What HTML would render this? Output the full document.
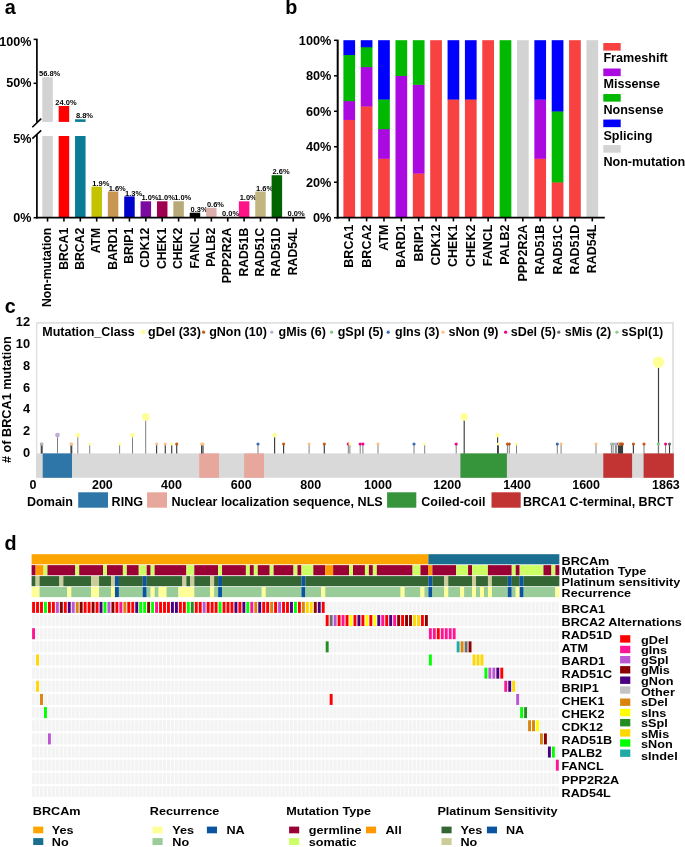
<!DOCTYPE html>
<html lang="en"><head><meta charset="utf-8"><title>BRCA / HRR mutation landscape</title>
<style>
html,body{margin:0;padding:0;background:#fff;}
body{width:685px;height:847px;overflow:hidden;}
svg{display:block;font-family:"Liberation Sans", Arial, Helvetica, sans-serif;}
svg text{fill:#000;}
</style></head><body>
<svg width="685" height="847" viewBox="0 0 685 847">
<rect x="0" y="0" width="685" height="847" fill="#ffffff"/>
<text x="4.80" y="14.00" font-size="19.8" text-anchor="start" font-weight="bold">a</text>
<text x="285.30" y="14.00" font-size="19.8" text-anchor="start" font-weight="bold">b</text>
<text x="4.80" y="313.40" font-size="19.8" text-anchor="start" font-weight="bold">c</text>
<text x="4.50" y="549.80" font-size="19.8" text-anchor="start" font-weight="bold">d</text>
<rect x="42.30" y="136.00" width="10.50" height="81.60" fill="#d3d3d3"/>
<rect x="42.30" y="77.24" width="10.50" height="44.66" fill="#d3d3d3"/>
<text x="60.25" y="76.34" font-size="7.5" text-anchor="end" font-weight="bold">56.8%</text>
<line x1="47.55" y1="218.00" x2="47.55" y2="221.60" stroke="#000" stroke-width="1.6"/>
<text transform="translate(51.15,227.80) rotate(-90)" font-size="12.2" text-anchor="end" font-weight="bold">Non-mutation</text>
<rect x="58.68" y="136.00" width="10.50" height="81.60" fill="#ff0000"/>
<rect x="58.68" y="105.98" width="10.50" height="15.92" fill="#ff0000"/>
<text x="76.63" y="105.08" font-size="7.5" text-anchor="end" font-weight="bold">24.0%</text>
<line x1="63.93" y1="218.00" x2="63.93" y2="221.60" stroke="#000" stroke-width="1.6"/>
<text transform="translate(67.53,227.80) rotate(-90)" font-size="12.2" text-anchor="end" font-weight="bold">BRCA1</text>
<rect x="75.06" y="136.00" width="10.50" height="81.60" fill="#0a7c96"/>
<rect x="75.06" y="119.29" width="10.50" height="2.61" fill="#0a7c96"/>
<text x="93.01" y="118.39" font-size="7.5" text-anchor="end" font-weight="bold">8.8%</text>
<line x1="80.31" y1="218.00" x2="80.31" y2="221.60" stroke="#000" stroke-width="1.6"/>
<text transform="translate(83.91,227.80) rotate(-90)" font-size="12.2" text-anchor="end" font-weight="bold">BRCA2</text>
<rect x="91.44" y="186.63" width="10.50" height="30.97" fill="#c3c300"/>
<text x="109.39" y="185.73" font-size="7.5" text-anchor="end" font-weight="bold">1.9%</text>
<line x1="96.69" y1="218.00" x2="96.69" y2="221.60" stroke="#000" stroke-width="1.6"/>
<text transform="translate(100.29,227.80) rotate(-90)" font-size="12.2" text-anchor="end" font-weight="bold">ATM</text>
<rect x="107.82" y="191.52" width="10.50" height="26.08" fill="#c89650"/>
<text x="125.77" y="190.62" font-size="7.5" text-anchor="end" font-weight="bold">1.6%</text>
<line x1="113.07" y1="218.00" x2="113.07" y2="221.60" stroke="#000" stroke-width="1.6"/>
<text transform="translate(116.67,227.80) rotate(-90)" font-size="12.2" text-anchor="end" font-weight="bold">BARD1</text>
<rect x="124.20" y="196.41" width="10.50" height="21.19" fill="#0000cd"/>
<text x="142.15" y="195.51" font-size="7.5" text-anchor="end" font-weight="bold">1.3%</text>
<line x1="129.45" y1="218.00" x2="129.45" y2="221.60" stroke="#000" stroke-width="1.6"/>
<text transform="translate(133.05,227.80) rotate(-90)" font-size="12.2" text-anchor="end" font-weight="bold">BRIP1</text>
<rect x="140.58" y="201.30" width="10.50" height="16.30" fill="#7b0aa0"/>
<text x="158.53" y="200.40" font-size="7.5" text-anchor="end" font-weight="bold">1.0%</text>
<line x1="145.83" y1="218.00" x2="145.83" y2="221.60" stroke="#000" stroke-width="1.6"/>
<text transform="translate(149.43,227.80) rotate(-90)" font-size="12.2" text-anchor="end" font-weight="bold">CDK12</text>
<rect x="156.96" y="201.30" width="10.50" height="16.30" fill="#a00050"/>
<text x="174.91" y="200.40" font-size="7.5" text-anchor="end" font-weight="bold">1.0%</text>
<line x1="162.21" y1="218.00" x2="162.21" y2="221.60" stroke="#000" stroke-width="1.6"/>
<text transform="translate(165.81,227.80) rotate(-90)" font-size="12.2" text-anchor="end" font-weight="bold">CHEK1</text>
<rect x="173.34" y="201.30" width="10.50" height="16.30" fill="#b5aa78"/>
<text x="191.29" y="200.40" font-size="7.5" text-anchor="end" font-weight="bold">1.0%</text>
<line x1="178.59" y1="218.00" x2="178.59" y2="221.60" stroke="#000" stroke-width="1.6"/>
<text transform="translate(182.19,227.80) rotate(-90)" font-size="12.2" text-anchor="end" font-weight="bold">CHEK2</text>
<rect x="189.72" y="212.71" width="10.50" height="4.89" fill="#000000"/>
<text x="207.67" y="211.81" font-size="7.5" text-anchor="end" font-weight="bold">0.3%</text>
<line x1="194.97" y1="218.00" x2="194.97" y2="221.60" stroke="#000" stroke-width="1.6"/>
<text transform="translate(198.57,227.80) rotate(-90)" font-size="12.2" text-anchor="end" font-weight="bold">FANCL</text>
<rect x="206.10" y="207.82" width="10.50" height="9.78" fill="#dcb0aa"/>
<text x="224.05" y="206.92" font-size="7.5" text-anchor="end" font-weight="bold">0.6%</text>
<line x1="211.35" y1="218.00" x2="211.35" y2="221.60" stroke="#000" stroke-width="1.6"/>
<text transform="translate(214.95,227.80) rotate(-90)" font-size="12.2" text-anchor="end" font-weight="bold">PALB2</text>
<text x="239.13" y="215.90" font-size="7.5" text-anchor="end" font-weight="bold">0.0%</text>
<line x1="227.73" y1="218.00" x2="227.73" y2="221.60" stroke="#000" stroke-width="1.6"/>
<text transform="translate(231.33,227.80) rotate(-90)" font-size="12.2" text-anchor="end" font-weight="bold">PPP2R2A</text>
<rect x="238.86" y="201.30" width="10.50" height="16.30" fill="#ff1488"/>
<text x="256.81" y="200.40" font-size="7.5" text-anchor="end" font-weight="bold">1.0%</text>
<line x1="244.11" y1="218.00" x2="244.11" y2="221.60" stroke="#000" stroke-width="1.6"/>
<text transform="translate(247.71,227.80) rotate(-90)" font-size="12.2" text-anchor="end" font-weight="bold">RAD51B</text>
<rect x="255.24" y="191.52" width="10.50" height="26.08" fill="#c3b580"/>
<text x="273.19" y="190.62" font-size="7.5" text-anchor="end" font-weight="bold">1.6%</text>
<line x1="260.49" y1="218.00" x2="260.49" y2="221.60" stroke="#000" stroke-width="1.6"/>
<text transform="translate(264.09,227.80) rotate(-90)" font-size="12.2" text-anchor="end" font-weight="bold">RAD51C</text>
<rect x="271.62" y="175.22" width="10.50" height="42.38" fill="#006400"/>
<text x="289.57" y="174.32" font-size="7.5" text-anchor="end" font-weight="bold">2.6%</text>
<line x1="276.87" y1="218.00" x2="276.87" y2="221.60" stroke="#000" stroke-width="1.6"/>
<text transform="translate(280.47,227.80) rotate(-90)" font-size="12.2" text-anchor="end" font-weight="bold">RAD51D</text>
<text x="304.65" y="215.90" font-size="7.5" text-anchor="end" font-weight="bold">0.0%</text>
<line x1="293.25" y1="218.00" x2="293.25" y2="221.60" stroke="#000" stroke-width="1.6"/>
<text transform="translate(296.85,227.80) rotate(-90)" font-size="12.2" text-anchor="end" font-weight="bold">RAD54L</text>
<line x1="36.90" y1="38.80" x2="36.90" y2="122.20" stroke="#000" stroke-width="1.7"/>
<line x1="36.90" y1="134.60" x2="36.90" y2="218.40" stroke="#000" stroke-width="1.7"/>
<line x1="32.30" y1="127.30" x2="41.20" y2="118.60" stroke="#000" stroke-width="1.6"/>
<line x1="32.30" y1="138.60" x2="41.20" y2="130.40" stroke="#000" stroke-width="1.6"/>
<line x1="36.00" y1="217.70" x2="305.30" y2="217.70" stroke="#000" stroke-width="1.7"/>
<line x1="33.60" y1="39.40" x2="37.00" y2="39.40" stroke="#000" stroke-width="1.5"/>
<line x1="33.60" y1="83.30" x2="37.00" y2="83.30" stroke="#000" stroke-width="1.5"/>
<line x1="33.60" y1="217.70" x2="37.00" y2="217.70" stroke="#000" stroke-width="1.5"/>
<text x="31.40" y="46.00" font-size="12.6" text-anchor="end" font-weight="bold">100%</text>
<text x="31.40" y="86.90" font-size="12.6" text-anchor="end" font-weight="bold">50%</text>
<text x="31.40" y="142.90" font-size="12.6" text-anchor="end" font-weight="bold">5%</text>
<text x="31.40" y="222.40" font-size="12.6" text-anchor="end" font-weight="bold">0%</text>
<rect x="343.40" y="119.68" width="11.70" height="98.22" fill="#f84141"/>
<rect x="343.40" y="100.87" width="11.70" height="19.10" fill="#aa0ae0"/>
<rect x="343.40" y="54.75" width="11.70" height="46.42" fill="#00b900"/>
<rect x="343.40" y="40.20" width="11.70" height="14.85" fill="#0000ff"/>
<line x1="349.25" y1="218.00" x2="349.25" y2="221.40" stroke="#000" stroke-width="1.6"/>
<text transform="translate(353.25,224.60) rotate(-90)" font-size="12.5" text-anchor="end" font-weight="bold">BRCA1</text>
<rect x="360.76" y="106.19" width="11.70" height="111.71" fill="#f84141"/>
<rect x="360.76" y="66.81" width="11.70" height="39.68" fill="#aa0ae0"/>
<rect x="360.76" y="46.94" width="11.70" height="20.17" fill="#00b900"/>
<rect x="360.76" y="40.20" width="11.70" height="7.04" fill="#0000ff"/>
<line x1="366.61" y1="218.00" x2="366.61" y2="221.40" stroke="#000" stroke-width="1.6"/>
<text transform="translate(370.61,224.60) rotate(-90)" font-size="12.5" text-anchor="end" font-weight="bold">BRCA2</text>
<rect x="378.12" y="158.53" width="11.70" height="59.37" fill="#f84141"/>
<rect x="378.12" y="128.90" width="11.70" height="29.93" fill="#aa0ae0"/>
<rect x="378.12" y="99.27" width="11.70" height="29.93" fill="#00b900"/>
<rect x="378.12" y="40.20" width="11.70" height="59.37" fill="#0000ff"/>
<line x1="383.97" y1="218.00" x2="383.97" y2="221.40" stroke="#000" stroke-width="1.6"/>
<text transform="translate(387.97,224.60) rotate(-90)" font-size="12.5" text-anchor="end" font-weight="bold">ATM</text>
<rect x="395.48" y="75.68" width="11.70" height="142.22" fill="#aa0ae0"/>
<rect x="395.48" y="40.20" width="11.70" height="35.78" fill="#00b900"/>
<line x1="401.33" y1="218.00" x2="401.33" y2="221.40" stroke="#000" stroke-width="1.6"/>
<text transform="translate(405.33,224.60) rotate(-90)" font-size="12.5" text-anchor="end" font-weight="bold">BARD1</text>
<rect x="412.84" y="173.25" width="11.70" height="44.65" fill="#f84141"/>
<rect x="412.84" y="84.55" width="11.70" height="89.00" fill="#aa0ae0"/>
<rect x="412.84" y="40.20" width="11.70" height="44.65" fill="#00b900"/>
<line x1="418.69" y1="218.00" x2="418.69" y2="221.40" stroke="#000" stroke-width="1.6"/>
<text transform="translate(422.69,224.60) rotate(-90)" font-size="12.5" text-anchor="end" font-weight="bold">BRIP1</text>
<rect x="430.20" y="40.20" width="11.70" height="177.70" fill="#f84141"/>
<line x1="436.05" y1="218.00" x2="436.05" y2="221.40" stroke="#000" stroke-width="1.6"/>
<text transform="translate(440.05,224.60) rotate(-90)" font-size="12.5" text-anchor="end" font-weight="bold">CDK12</text>
<rect x="447.56" y="99.27" width="11.70" height="118.63" fill="#f84141"/>
<rect x="447.56" y="40.20" width="11.70" height="59.37" fill="#0000ff"/>
<line x1="453.41" y1="218.00" x2="453.41" y2="221.40" stroke="#000" stroke-width="1.6"/>
<text transform="translate(457.41,224.60) rotate(-90)" font-size="12.5" text-anchor="end" font-weight="bold">CHEK1</text>
<rect x="464.92" y="99.27" width="11.70" height="118.63" fill="#f84141"/>
<rect x="464.92" y="40.20" width="11.70" height="59.37" fill="#0000ff"/>
<line x1="470.77" y1="218.00" x2="470.77" y2="221.40" stroke="#000" stroke-width="1.6"/>
<text transform="translate(474.77,224.60) rotate(-90)" font-size="12.5" text-anchor="end" font-weight="bold">CHEK2</text>
<rect x="482.28" y="40.20" width="11.70" height="177.70" fill="#f84141"/>
<line x1="488.13" y1="218.00" x2="488.13" y2="221.40" stroke="#000" stroke-width="1.6"/>
<text transform="translate(492.13,224.60) rotate(-90)" font-size="12.5" text-anchor="end" font-weight="bold">FANCL</text>
<rect x="499.64" y="40.20" width="11.70" height="177.70" fill="#00b900"/>
<line x1="505.49" y1="218.00" x2="505.49" y2="221.40" stroke="#000" stroke-width="1.6"/>
<text transform="translate(509.49,224.60) rotate(-90)" font-size="12.5" text-anchor="end" font-weight="bold">PALB2</text>
<rect x="517.00" y="40.20" width="11.70" height="177.70" fill="#d3d3d3"/>
<line x1="522.85" y1="218.00" x2="522.85" y2="221.40" stroke="#000" stroke-width="1.6"/>
<text transform="translate(526.85,224.60) rotate(-90)" font-size="12.5" text-anchor="end" font-weight="bold">PPP2R2A</text>
<rect x="534.36" y="158.53" width="11.70" height="59.37" fill="#f84141"/>
<rect x="534.36" y="99.27" width="11.70" height="59.55" fill="#aa0ae0"/>
<rect x="534.36" y="40.20" width="11.70" height="59.37" fill="#0000ff"/>
<line x1="540.21" y1="218.00" x2="540.21" y2="221.40" stroke="#000" stroke-width="1.6"/>
<text transform="translate(544.21,224.60) rotate(-90)" font-size="12.5" text-anchor="end" font-weight="bold">RAD51B</text>
<rect x="551.72" y="182.12" width="11.70" height="35.78" fill="#f84141"/>
<rect x="551.72" y="111.16" width="11.70" height="71.26" fill="#00b900"/>
<rect x="551.72" y="40.20" width="11.70" height="71.26" fill="#0000ff"/>
<line x1="557.57" y1="218.00" x2="557.57" y2="221.40" stroke="#000" stroke-width="1.6"/>
<text transform="translate(561.57,224.60) rotate(-90)" font-size="12.5" text-anchor="end" font-weight="bold">RAD51C</text>
<rect x="569.08" y="40.20" width="11.70" height="177.70" fill="#f84141"/>
<line x1="574.93" y1="218.00" x2="574.93" y2="221.40" stroke="#000" stroke-width="1.6"/>
<text transform="translate(578.93,224.60) rotate(-90)" font-size="12.5" text-anchor="end" font-weight="bold">RAD51D</text>
<rect x="586.44" y="40.20" width="11.70" height="177.70" fill="#d3d3d3"/>
<line x1="592.29" y1="218.00" x2="592.29" y2="221.40" stroke="#000" stroke-width="1.6"/>
<text transform="translate(596.29,224.60) rotate(-90)" font-size="12.5" text-anchor="end" font-weight="bold">RAD54L</text>
<line x1="337.70" y1="39.60" x2="337.70" y2="218.50" stroke="#000" stroke-width="2.0"/>
<line x1="336.50" y1="217.70" x2="604.80" y2="217.70" stroke="#000" stroke-width="1.7"/>
<line x1="334.00" y1="217.70" x2="337.00" y2="217.70" stroke="#000" stroke-width="1.5"/>
<text x="331.30" y="222.20" font-size="12.7" text-anchor="end" font-weight="bold">0%</text>
<line x1="334.00" y1="182.22" x2="337.00" y2="182.22" stroke="#000" stroke-width="1.5"/>
<text x="331.30" y="186.72" font-size="12.7" text-anchor="end" font-weight="bold">20%</text>
<line x1="334.00" y1="146.74" x2="337.00" y2="146.74" stroke="#000" stroke-width="1.5"/>
<text x="331.30" y="151.24" font-size="12.7" text-anchor="end" font-weight="bold">40%</text>
<line x1="334.00" y1="111.26" x2="337.00" y2="111.26" stroke="#000" stroke-width="1.5"/>
<text x="331.30" y="115.76" font-size="12.7" text-anchor="end" font-weight="bold">60%</text>
<line x1="334.00" y1="75.78" x2="337.00" y2="75.78" stroke="#000" stroke-width="1.5"/>
<text x="331.30" y="80.28" font-size="12.7" text-anchor="end" font-weight="bold">80%</text>
<line x1="334.00" y1="40.30" x2="337.00" y2="40.30" stroke="#000" stroke-width="1.5"/>
<text x="331.30" y="44.80" font-size="12.7" text-anchor="end" font-weight="bold">100%</text>
<rect x="603.30" y="43.00" width="17.40" height="7.60" fill="#f84141"/>
<text x="603.40" y="62.20" font-size="12.6" text-anchor="start" font-weight="bold">Frameshift</text>
<rect x="603.30" y="68.52" width="17.40" height="7.60" fill="#aa0ae0"/>
<text x="603.40" y="88.10" font-size="12.6" text-anchor="start" font-weight="bold">Missense</text>
<rect x="603.30" y="94.04" width="17.40" height="7.60" fill="#00b900"/>
<text x="603.40" y="113.90" font-size="12.6" text-anchor="start" font-weight="bold">Nonsense</text>
<rect x="603.30" y="119.56" width="17.40" height="7.60" fill="#0000ff"/>
<text x="603.40" y="139.80" font-size="12.6" text-anchor="start" font-weight="bold">Splicing</text>
<rect x="603.30" y="145.08" width="17.40" height="7.60" fill="#d3d3d3"/>
<text x="603.40" y="165.80" font-size="12.6" text-anchor="start" font-weight="bold">Non-mutation</text>
<line x1="35.90" y1="322.95" x2="673.90" y2="322.95" stroke="#e1e1e1" stroke-width="1.7"/>
<line x1="36.65" y1="322.10" x2="36.65" y2="453.50" stroke="#e1e1e1" stroke-width="1.5"/>
<line x1="673.00" y1="322.10" x2="673.00" y2="453.50" stroke="#e1e1e1" stroke-width="1.8"/>
<rect x="36.00" y="453.40" width="637.90" height="24.40" fill="#d9d9d9"/>
<rect x="42.70" y="453.40" width="29.30" height="24.40" fill="#2e75a8"/>
<rect x="199.20" y="453.40" width="19.80" height="24.40" fill="#e8a79d"/>
<rect x="244.10" y="453.40" width="19.90" height="24.40" fill="#e8a79d"/>
<rect x="460.40" y="453.40" width="46.50" height="24.40" fill="#36943a"/>
<rect x="603.30" y="453.40" width="28.80" height="24.40" fill="#c23333"/>
<rect x="643.60" y="453.40" width="30.20" height="24.40" fill="#c23333"/>
<line x1="41.30" y1="444.93" x2="41.30" y2="453.60" stroke="#3c3c3c" stroke-width="1.15"/>
<line x1="42.10" y1="444.93" x2="42.10" y2="453.60" stroke="#3c3c3c" stroke-width="1.15"/>
<line x1="57.50" y1="436.54" x2="57.50" y2="453.60" stroke="#808080" stroke-width="1.0"/>
<line x1="71.00" y1="444.93" x2="71.00" y2="453.60" stroke="#3c3c3c" stroke-width="1.15"/>
<line x1="71.70" y1="444.93" x2="71.70" y2="453.60" stroke="#3c3c3c" stroke-width="1.15"/>
<line x1="77.80" y1="436.54" x2="77.80" y2="453.60" stroke="#808080" stroke-width="1.0"/>
<line x1="89.70" y1="444.93" x2="89.70" y2="453.60" stroke="#808080" stroke-width="1.0"/>
<line x1="119.60" y1="444.93" x2="119.60" y2="453.60" stroke="#808080" stroke-width="1.0"/>
<line x1="132.50" y1="436.54" x2="132.50" y2="453.60" stroke="#808080" stroke-width="1.0"/>
<line x1="145.70" y1="419.18" x2="145.70" y2="453.60" stroke="#808080" stroke-width="1.0"/>
<line x1="156.60" y1="444.93" x2="156.60" y2="453.60" stroke="#3c3c3c" stroke-width="1.15"/>
<line x1="165.30" y1="444.93" x2="165.30" y2="453.60" stroke="#3c3c3c" stroke-width="1.15"/>
<line x1="171.70" y1="444.93" x2="171.70" y2="453.60" stroke="#3c3c3c" stroke-width="1.15"/>
<line x1="176.70" y1="444.93" x2="176.70" y2="453.60" stroke="#3c3c3c" stroke-width="1.15"/>
<line x1="201.60" y1="444.93" x2="201.60" y2="453.60" stroke="#3c3c3c" stroke-width="1.15"/>
<line x1="203.00" y1="444.93" x2="203.00" y2="453.60" stroke="#3c3c3c" stroke-width="1.15"/>
<line x1="258.00" y1="444.93" x2="258.00" y2="453.60" stroke="#808080" stroke-width="1.0"/>
<line x1="274.60" y1="436.54" x2="274.60" y2="453.60" stroke="#3c3c3c" stroke-width="1.15"/>
<line x1="283.60" y1="444.93" x2="283.60" y2="453.60" stroke="#3c3c3c" stroke-width="1.15"/>
<line x1="309.10" y1="444.93" x2="309.10" y2="453.60" stroke="#808080" stroke-width="1.0"/>
<line x1="324.30" y1="444.93" x2="324.30" y2="453.60" stroke="#3c3c3c" stroke-width="1.15"/>
<line x1="348.30" y1="444.93" x2="348.30" y2="453.60" stroke="#808080" stroke-width="1.0"/>
<line x1="349.90" y1="444.93" x2="349.90" y2="453.60" stroke="#808080" stroke-width="1.0"/>
<line x1="360.20" y1="444.93" x2="360.20" y2="453.60" stroke="#808080" stroke-width="1.0"/>
<line x1="362.90" y1="444.93" x2="362.90" y2="453.60" stroke="#808080" stroke-width="1.0"/>
<line x1="378.00" y1="444.93" x2="378.00" y2="453.60" stroke="#808080" stroke-width="1.0"/>
<line x1="414.00" y1="444.93" x2="414.00" y2="453.60" stroke="#808080" stroke-width="1.0"/>
<line x1="424.70" y1="444.93" x2="424.70" y2="453.60" stroke="#808080" stroke-width="1.0"/>
<line x1="456.20" y1="444.93" x2="456.20" y2="453.60" stroke="#808080" stroke-width="1.0"/>
<line x1="464.20" y1="419.18" x2="464.20" y2="453.60" stroke="#3c3c3c" stroke-width="1.15"/>
<line x1="497.60" y1="436.54" x2="497.60" y2="453.60" stroke="#3c3c3c" stroke-width="1.15"/>
<line x1="498.30" y1="444.93" x2="498.30" y2="453.60" stroke="#3c3c3c" stroke-width="1.15"/>
<line x1="507.40" y1="444.93" x2="507.40" y2="453.60" stroke="#808080" stroke-width="1.0"/>
<line x1="509.30" y1="444.93" x2="509.30" y2="453.60" stroke="#808080" stroke-width="1.0"/>
<line x1="516.50" y1="444.93" x2="516.50" y2="453.60" stroke="#808080" stroke-width="1.0"/>
<line x1="557.30" y1="444.93" x2="557.30" y2="453.60" stroke="#808080" stroke-width="1.0"/>
<line x1="561.10" y1="444.93" x2="561.10" y2="453.60" stroke="#808080" stroke-width="1.0"/>
<line x1="596.00" y1="444.93" x2="596.00" y2="453.60" stroke="#808080" stroke-width="1.0"/>
<line x1="611.40" y1="444.93" x2="611.40" y2="453.60" stroke="#808080" stroke-width="1.0"/>
<line x1="613.10" y1="444.93" x2="613.10" y2="453.60" stroke="#808080" stroke-width="1.0"/>
<line x1="615.40" y1="444.93" x2="615.40" y2="453.60" stroke="#808080" stroke-width="1.0"/>
<line x1="616.70" y1="444.93" x2="616.70" y2="453.60" stroke="#808080" stroke-width="1.0"/>
<line x1="618.60" y1="444.93" x2="618.60" y2="453.60" stroke="#3c3c3c" stroke-width="1.15"/>
<line x1="619.50" y1="444.93" x2="619.50" y2="453.60" stroke="#3c3c3c" stroke-width="1.15"/>
<line x1="620.50" y1="444.93" x2="620.50" y2="453.60" stroke="#3c3c3c" stroke-width="1.15"/>
<line x1="621.50" y1="444.93" x2="621.50" y2="453.60" stroke="#3c3c3c" stroke-width="1.15"/>
<line x1="622.50" y1="444.93" x2="622.50" y2="453.60" stroke="#3c3c3c" stroke-width="1.15"/>
<line x1="633.40" y1="444.93" x2="633.40" y2="453.60" stroke="#3c3c3c" stroke-width="1.15"/>
<line x1="644.00" y1="444.93" x2="644.00" y2="453.60" stroke="#808080" stroke-width="1.0"/>
<line x1="658.50" y1="365.72" x2="658.50" y2="453.60" stroke="#3c3c3c" stroke-width="1.15"/>
<line x1="658.40" y1="444.93" x2="658.40" y2="453.60" stroke="#808080" stroke-width="1.0"/>
<line x1="665.60" y1="444.93" x2="665.60" y2="453.60" stroke="#808080" stroke-width="1.0"/>
<line x1="669.50" y1="444.93" x2="669.50" y2="453.60" stroke="#3c3c3c" stroke-width="1.15"/>
<circle cx="41.30" cy="444.00" r="1.55" fill="#7fc97f"/>
<circle cx="42.10" cy="444.00" r="1.55" fill="#beaed4"/>
<circle cx="57.50" cy="435.10" r="2.4" fill="#beaed4"/>
<circle cx="71.00" cy="444.00" r="1.55" fill="#fdc086"/>
<circle cx="71.70" cy="444.00" r="1.55" fill="#fdc086"/>
<circle cx="77.80" cy="435.10" r="2.4" fill="#ffff99"/>
<circle cx="89.70" cy="444.00" r="1.55" fill="#ffff99"/>
<circle cx="119.60" cy="444.00" r="1.55" fill="#ffff99"/>
<circle cx="132.50" cy="435.10" r="2.4" fill="#ffff99"/>
<circle cx="145.70" cy="416.90" r="3.8" fill="#ffff99"/>
<circle cx="156.60" cy="444.00" r="1.55" fill="#fdc086"/>
<circle cx="165.30" cy="444.00" r="1.55" fill="#fdc086"/>
<circle cx="171.70" cy="444.00" r="1.55" fill="#ffff99"/>
<circle cx="176.70" cy="444.00" r="1.55" fill="#bf5b17"/>
<circle cx="201.60" cy="444.00" r="1.55" fill="#fdc086"/>
<circle cx="203.00" cy="444.00" r="1.55" fill="#fdc086"/>
<circle cx="258.00" cy="444.00" r="1.55" fill="#386cb0"/>
<circle cx="274.60" cy="435.10" r="2.4" fill="#ffff99"/>
<circle cx="283.60" cy="444.00" r="1.55" fill="#bf5b17"/>
<circle cx="309.10" cy="444.00" r="1.55" fill="#fdc086"/>
<circle cx="324.30" cy="444.00" r="1.55" fill="#bf5b17"/>
<circle cx="348.30" cy="444.00" r="1.55" fill="#f0027f"/>
<circle cx="349.90" cy="444.00" r="1.55" fill="#ffff99"/>
<circle cx="360.20" cy="444.00" r="1.55" fill="#f0027f"/>
<circle cx="362.90" cy="444.00" r="1.55" fill="#f0027f"/>
<circle cx="378.00" cy="444.00" r="1.55" fill="#fdc086"/>
<circle cx="414.00" cy="444.00" r="1.55" fill="#386cb0"/>
<circle cx="424.70" cy="444.00" r="1.55" fill="#ffff99"/>
<circle cx="456.20" cy="444.00" r="1.55" fill="#f0027f"/>
<circle cx="464.20" cy="416.90" r="3.8" fill="#ffff99"/>
<circle cx="497.60" cy="435.10" r="2.4" fill="#ffff99"/>
<circle cx="498.30" cy="444.00" r="1.55" fill="#ffff99"/>
<circle cx="507.40" cy="444.00" r="1.55" fill="#bf5b17"/>
<circle cx="509.30" cy="444.00" r="1.55" fill="#bf5b17"/>
<circle cx="516.50" cy="444.00" r="1.55" fill="#ffff99"/>
<circle cx="557.30" cy="444.00" r="1.55" fill="#386cb0"/>
<circle cx="561.10" cy="444.00" r="1.55" fill="#fdc086"/>
<circle cx="596.00" cy="444.00" r="1.55" fill="#fdc086"/>
<circle cx="611.40" cy="444.00" r="1.55" fill="#beaed4"/>
<circle cx="613.10" cy="444.00" r="1.55" fill="#7fc97f"/>
<circle cx="615.40" cy="444.00" r="1.55" fill="#beaed4"/>
<circle cx="616.70" cy="444.00" r="1.55" fill="#beaed4"/>
<circle cx="618.60" cy="444.00" r="1.55" fill="#666666"/>
<circle cx="619.50" cy="444.00" r="1.55" fill="#fdc086"/>
<circle cx="620.50" cy="444.00" r="1.55" fill="#bf5b17"/>
<circle cx="621.50" cy="444.00" r="1.55" fill="#bf5b17"/>
<circle cx="622.50" cy="444.00" r="1.55" fill="#bf5b17"/>
<circle cx="633.40" cy="444.00" r="1.55" fill="#bf5b17"/>
<circle cx="644.00" cy="444.00" r="1.55" fill="#bf5b17"/>
<circle cx="658.50" cy="362.30" r="5.7" fill="#ffff99"/>
<circle cx="658.40" cy="444.00" r="1.55" fill="#7fc97f"/>
<circle cx="665.60" cy="444.00" r="1.55" fill="#f0027f"/>
<circle cx="669.50" cy="444.00" r="1.55" fill="#666666"/>
<text x="30.10" y="457.05" font-size="12.8" text-anchor="end" font-weight="bold">0</text>
<text x="30.10" y="435.20" font-size="12.8" text-anchor="end" font-weight="bold">2</text>
<text x="30.10" y="413.35" font-size="12.8" text-anchor="end" font-weight="bold">4</text>
<text x="30.10" y="391.50" font-size="12.8" text-anchor="end" font-weight="bold">6</text>
<text x="30.10" y="369.65" font-size="12.8" text-anchor="end" font-weight="bold">8</text>
<text x="30.10" y="347.80" font-size="12.8" text-anchor="end" font-weight="bold">10</text>
<text x="30.10" y="325.95" font-size="12.8" text-anchor="end" font-weight="bold">12</text>
<text transform="translate(11.40,336.20) rotate(-90)" font-size="12.7" text-anchor="end" font-weight="bold"># of BRCA1 mutation</text>
<text x="33.00" y="488.90" font-size="12.5" text-anchor="middle" font-weight="bold">0</text>
<text x="102.40" y="488.90" font-size="12.5" text-anchor="middle" font-weight="bold">200</text>
<text x="171.50" y="488.90" font-size="12.5" text-anchor="middle" font-weight="bold">400</text>
<text x="241.30" y="488.90" font-size="12.5" text-anchor="middle" font-weight="bold">600</text>
<text x="310.80" y="488.90" font-size="12.5" text-anchor="middle" font-weight="bold">800</text>
<text x="378.00" y="488.90" font-size="12.5" text-anchor="middle" font-weight="bold">1000</text>
<text x="447.20" y="488.90" font-size="12.5" text-anchor="middle" font-weight="bold">1200</text>
<text x="517.10" y="488.90" font-size="12.5" text-anchor="middle" font-weight="bold">1400</text>
<text x="586.10" y="488.90" font-size="12.5" text-anchor="middle" font-weight="bold">1600</text>
<text x="665.90" y="488.90" font-size="12.5" text-anchor="middle" font-weight="bold">1863</text>
<text x="27.00" y="505.70" font-size="12.55" text-anchor="start" font-weight="bold">Domain</text>
<rect x="78.20" y="492.30" width="29.80" height="15.40" fill="#2e75a8"/>
<text x="111.60" y="505.70" font-size="12.55" text-anchor="start" font-weight="bold">RING</text>
<rect x="147.10" y="492.30" width="19.90" height="15.40" fill="#e8a79d"/>
<text x="171.40" y="505.70" font-size="12.55" text-anchor="start" font-weight="bold">Nuclear localization sequence, NLS</text>
<rect x="387.10" y="492.30" width="29.20" height="15.40" fill="#36943a"/>
<text x="421.30" y="505.70" font-size="12.55" text-anchor="start" font-weight="bold">Coiled-coil</text>
<rect x="491.50" y="492.30" width="29.20" height="15.40" fill="#c23333"/>
<text x="522.90" y="505.70" font-size="12.55" text-anchor="start" font-weight="bold">BRCA1 C-terminal, BRCT</text>
<text x="42.30" y="336.00" font-size="12.5" text-anchor="start" font-weight="bold">Mutation_Class</text>
<circle cx="142.9" cy="332.2" r="2.4" fill="#ffff99"/>
<text x="148.10" y="336.00" font-size="12.5" text-anchor="start" font-weight="bold">gDel (33)</text>
<circle cx="203.6" cy="332.2" r="1.6" fill="#bf5b17"/>
<text x="209.20" y="336.00" font-size="12.5" text-anchor="start" font-weight="bold">gNon (10)</text>
<circle cx="271.8" cy="332.2" r="1.6" fill="#beaed4"/>
<text x="278.60" y="336.00" font-size="12.5" text-anchor="start" font-weight="bold">gMis (6)</text>
<circle cx="331.6" cy="332.2" r="1.6" fill="#7fc97f"/>
<text x="337.70" y="336.00" font-size="12.5" text-anchor="start" font-weight="bold">gSpl (5)</text>
<circle cx="388.2" cy="332.2" r="1.6" fill="#386cb0"/>
<text x="395.00" y="336.00" font-size="12.5" text-anchor="start" font-weight="bold">gIns (3)</text>
<circle cx="443" cy="332.2" r="1.6" fill="#fdc086"/>
<text x="448.50" y="336.00" font-size="12.5" text-anchor="start" font-weight="bold">sNon (9)</text>
<circle cx="505.6" cy="332.2" r="1.6" fill="#f0027f"/>
<text x="510.70" y="336.00" font-size="12.5" text-anchor="start" font-weight="bold">sDel (5)</text>
<circle cx="558.8" cy="332.2" r="1.6" fill="#666666"/>
<text x="564.70" y="336.00" font-size="12.5" text-anchor="start" font-weight="bold">sMis (2)</text>
<circle cx="616.9" cy="332.2" r="1.6" fill="#8fd08f"/>
<text x="621.60" y="336.00" font-size="12.5" text-anchor="start" font-weight="bold">sSpl(1)</text>
<rect x="31.60" y="554.20" width="396.85" height="10.10" fill="#ffa500"/>
<rect x="428.40" y="554.20" width="130.94" height="10.10" fill="#1a6e8f"/>
<rect x="31.60" y="565.15" width="4.02" height="10.10" fill="#990033"/>
<rect x="35.57" y="565.15" width="7.99" height="10.10" fill="#ff9900"/>
<rect x="43.50" y="565.15" width="4.02" height="10.10" fill="#ccff66"/>
<rect x="47.47" y="565.15" width="27.83" height="10.10" fill="#990033"/>
<rect x="75.25" y="565.15" width="4.02" height="10.10" fill="#ccff66"/>
<rect x="79.22" y="565.15" width="23.86" height="10.10" fill="#990033"/>
<rect x="103.02" y="565.15" width="4.02" height="10.10" fill="#ccff66"/>
<rect x="106.99" y="565.15" width="15.92" height="10.10" fill="#990033"/>
<rect x="122.86" y="565.15" width="4.02" height="10.10" fill="#ccff66"/>
<rect x="126.83" y="565.15" width="11.95" height="10.10" fill="#990033"/>
<rect x="138.74" y="565.15" width="7.99" height="10.10" fill="#ccff66"/>
<rect x="146.67" y="565.15" width="4.02" height="10.10" fill="#990033"/>
<rect x="150.64" y="565.15" width="4.02" height="10.10" fill="#ccff66"/>
<rect x="154.61" y="565.15" width="31.79" height="10.10" fill="#990033"/>
<rect x="186.35" y="565.15" width="7.99" height="10.10" fill="#ccff66"/>
<rect x="194.29" y="565.15" width="23.86" height="10.10" fill="#990033"/>
<rect x="218.10" y="565.15" width="4.02" height="10.10" fill="#ccff66"/>
<rect x="222.06" y="565.15" width="23.86" height="10.10" fill="#990033"/>
<rect x="245.87" y="565.15" width="4.02" height="10.10" fill="#ccff66"/>
<rect x="249.84" y="565.15" width="4.02" height="10.10" fill="#990033"/>
<rect x="253.81" y="565.15" width="4.02" height="10.10" fill="#ccff66"/>
<rect x="257.78" y="565.15" width="11.95" height="10.10" fill="#990033"/>
<rect x="269.68" y="565.15" width="4.02" height="10.10" fill="#ccff66"/>
<rect x="273.65" y="565.15" width="19.89" height="10.10" fill="#990033"/>
<rect x="293.49" y="565.15" width="4.02" height="10.10" fill="#ccff66"/>
<rect x="297.46" y="565.15" width="4.02" height="10.10" fill="#990033"/>
<rect x="301.42" y="565.15" width="11.95" height="10.10" fill="#ccff66"/>
<rect x="313.33" y="565.15" width="11.95" height="10.10" fill="#990033"/>
<rect x="325.23" y="565.15" width="7.99" height="10.10" fill="#ff9900"/>
<rect x="333.17" y="565.15" width="15.92" height="10.10" fill="#990033"/>
<rect x="349.04" y="565.15" width="4.02" height="10.10" fill="#ccff66"/>
<rect x="353.01" y="565.15" width="11.95" height="10.10" fill="#990033"/>
<rect x="364.91" y="565.15" width="4.02" height="10.10" fill="#ccff66"/>
<rect x="368.88" y="565.15" width="4.02" height="10.10" fill="#990033"/>
<rect x="372.85" y="565.15" width="4.02" height="10.10" fill="#ccff66"/>
<rect x="376.82" y="565.15" width="35.76" height="10.10" fill="#990033"/>
<rect x="412.53" y="565.15" width="7.99" height="10.10" fill="#ccff66"/>
<rect x="420.46" y="565.15" width="7.99" height="10.10" fill="#990033"/>
<rect x="428.40" y="565.15" width="4.02" height="10.10" fill="#ff9900"/>
<rect x="432.37" y="565.15" width="23.86" height="10.10" fill="#990033"/>
<rect x="456.18" y="565.15" width="11.95" height="10.10" fill="#ccff66"/>
<rect x="468.08" y="565.15" width="4.02" height="10.10" fill="#990033"/>
<rect x="472.05" y="565.15" width="15.92" height="10.10" fill="#ccff66"/>
<rect x="487.92" y="565.15" width="23.86" height="10.10" fill="#990033"/>
<rect x="511.73" y="565.15" width="4.02" height="10.10" fill="#ccff66"/>
<rect x="515.70" y="565.15" width="4.02" height="10.10" fill="#990033"/>
<rect x="519.66" y="565.15" width="23.86" height="10.10" fill="#ccff66"/>
<rect x="543.47" y="565.15" width="7.99" height="10.10" fill="#990033"/>
<rect x="551.41" y="565.15" width="4.02" height="10.10" fill="#ccff66"/>
<rect x="555.38" y="565.15" width="3.97" height="10.10" fill="#990033"/>
<rect x="31.60" y="576.10" width="4.02" height="10.10" fill="#336633"/>
<rect x="35.57" y="576.10" width="4.02" height="10.10" fill="#cccc99"/>
<rect x="39.54" y="576.10" width="19.89" height="10.10" fill="#336633"/>
<rect x="59.38" y="576.10" width="4.02" height="10.10" fill="#cccc99"/>
<rect x="63.34" y="576.10" width="27.83" height="10.10" fill="#336633"/>
<rect x="91.12" y="576.10" width="7.99" height="10.10" fill="#cccc99"/>
<rect x="99.06" y="576.10" width="11.95" height="10.10" fill="#336633"/>
<rect x="110.96" y="576.10" width="4.02" height="10.10" fill="#cccc99"/>
<rect x="114.93" y="576.10" width="4.02" height="10.10" fill="#0b55a0"/>
<rect x="118.90" y="576.10" width="23.86" height="10.10" fill="#336633"/>
<rect x="142.70" y="576.10" width="4.02" height="10.10" fill="#0b55a0"/>
<rect x="146.67" y="576.10" width="35.76" height="10.10" fill="#336633"/>
<rect x="182.38" y="576.10" width="4.02" height="10.10" fill="#cccc99"/>
<rect x="186.35" y="576.10" width="4.02" height="10.10" fill="#336633"/>
<rect x="190.32" y="576.10" width="4.02" height="10.10" fill="#cccc99"/>
<rect x="194.29" y="576.10" width="15.92" height="10.10" fill="#336633"/>
<rect x="210.16" y="576.10" width="4.02" height="10.10" fill="#cccc99"/>
<rect x="214.13" y="576.10" width="4.02" height="10.10" fill="#336633"/>
<rect x="218.10" y="576.10" width="4.02" height="10.10" fill="#0b55a0"/>
<rect x="222.06" y="576.10" width="79.41" height="10.10" fill="#336633"/>
<rect x="301.42" y="576.10" width="4.02" height="10.10" fill="#0b55a0"/>
<rect x="305.39" y="576.10" width="123.06" height="10.10" fill="#336633"/>
<rect x="428.40" y="576.10" width="4.02" height="10.10" fill="#0b55a0"/>
<rect x="432.37" y="576.10" width="11.95" height="10.10" fill="#336633"/>
<rect x="444.27" y="576.10" width="4.02" height="10.10" fill="#cccc99"/>
<rect x="448.24" y="576.10" width="23.86" height="10.10" fill="#336633"/>
<rect x="472.05" y="576.10" width="4.02" height="10.10" fill="#cccc99"/>
<rect x="476.02" y="576.10" width="11.95" height="10.10" fill="#336633"/>
<rect x="487.92" y="576.10" width="4.02" height="10.10" fill="#cccc99"/>
<rect x="491.89" y="576.10" width="15.92" height="10.10" fill="#336633"/>
<rect x="507.76" y="576.10" width="4.02" height="10.10" fill="#0b55a0"/>
<rect x="511.73" y="576.10" width="7.99" height="10.10" fill="#336633"/>
<rect x="519.66" y="576.10" width="4.02" height="10.10" fill="#0b55a0"/>
<rect x="523.63" y="576.10" width="35.71" height="10.10" fill="#336633"/>
<rect x="31.60" y="587.05" width="7.99" height="10.10" fill="#ffff99"/>
<rect x="39.54" y="587.05" width="27.83" height="10.10" fill="#99cc99"/>
<rect x="67.31" y="587.05" width="4.02" height="10.10" fill="#ffff99"/>
<rect x="71.28" y="587.05" width="19.89" height="10.10" fill="#99cc99"/>
<rect x="91.12" y="587.05" width="7.99" height="10.10" fill="#ffff99"/>
<rect x="99.06" y="587.05" width="11.95" height="10.10" fill="#99cc99"/>
<rect x="110.96" y="587.05" width="4.02" height="10.10" fill="#ffff99"/>
<rect x="114.93" y="587.05" width="4.02" height="10.10" fill="#0b55a0"/>
<rect x="118.90" y="587.05" width="23.86" height="10.10" fill="#99cc99"/>
<rect x="142.70" y="587.05" width="4.02" height="10.10" fill="#0b55a0"/>
<rect x="146.67" y="587.05" width="4.02" height="10.10" fill="#99cc99"/>
<rect x="150.64" y="587.05" width="4.02" height="10.10" fill="#ffff99"/>
<rect x="154.61" y="587.05" width="4.02" height="10.10" fill="#99cc99"/>
<rect x="158.58" y="587.05" width="7.99" height="10.10" fill="#ffff99"/>
<rect x="166.51" y="587.05" width="11.95" height="10.10" fill="#99cc99"/>
<rect x="178.42" y="587.05" width="15.92" height="10.10" fill="#ffff99"/>
<rect x="194.29" y="587.05" width="15.92" height="10.10" fill="#99cc99"/>
<rect x="210.16" y="587.05" width="4.02" height="10.10" fill="#ffff99"/>
<rect x="214.13" y="587.05" width="4.02" height="10.10" fill="#99cc99"/>
<rect x="218.10" y="587.05" width="4.02" height="10.10" fill="#0b55a0"/>
<rect x="222.06" y="587.05" width="39.73" height="10.10" fill="#99cc99"/>
<rect x="261.74" y="587.05" width="4.02" height="10.10" fill="#ffff99"/>
<rect x="265.71" y="587.05" width="35.76" height="10.10" fill="#99cc99"/>
<rect x="301.42" y="587.05" width="4.02" height="10.10" fill="#0b55a0"/>
<rect x="305.39" y="587.05" width="15.92" height="10.10" fill="#99cc99"/>
<rect x="321.26" y="587.05" width="4.02" height="10.10" fill="#ffff99"/>
<rect x="325.23" y="587.05" width="75.44" height="10.10" fill="#99cc99"/>
<rect x="400.62" y="587.05" width="4.02" height="10.10" fill="#ffff99"/>
<rect x="404.59" y="587.05" width="15.92" height="10.10" fill="#99cc99"/>
<rect x="420.46" y="587.05" width="4.02" height="10.10" fill="#ffff99"/>
<rect x="424.43" y="587.05" width="4.02" height="10.10" fill="#99cc99"/>
<rect x="428.40" y="587.05" width="4.02" height="10.10" fill="#0b55a0"/>
<rect x="432.37" y="587.05" width="11.95" height="10.10" fill="#99cc99"/>
<rect x="444.27" y="587.05" width="4.02" height="10.10" fill="#ffff99"/>
<rect x="448.24" y="587.05" width="11.95" height="10.10" fill="#99cc99"/>
<rect x="460.14" y="587.05" width="4.02" height="10.10" fill="#ffff99"/>
<rect x="464.11" y="587.05" width="7.99" height="10.10" fill="#99cc99"/>
<rect x="472.05" y="587.05" width="4.02" height="10.10" fill="#ffff99"/>
<rect x="476.02" y="587.05" width="4.02" height="10.10" fill="#99cc99"/>
<rect x="479.98" y="587.05" width="4.02" height="10.10" fill="#ffff99"/>
<rect x="483.95" y="587.05" width="4.02" height="10.10" fill="#99cc99"/>
<rect x="487.92" y="587.05" width="4.02" height="10.10" fill="#ffff99"/>
<rect x="491.89" y="587.05" width="15.92" height="10.10" fill="#99cc99"/>
<rect x="507.76" y="587.05" width="4.02" height="10.10" fill="#0b55a0"/>
<rect x="511.73" y="587.05" width="4.02" height="10.10" fill="#99cc99"/>
<rect x="515.70" y="587.05" width="4.02" height="10.10" fill="#ffff99"/>
<rect x="519.66" y="587.05" width="4.02" height="10.10" fill="#0b55a0"/>
<rect x="523.63" y="587.05" width="31.79" height="10.10" fill="#99cc99"/>
<rect x="555.38" y="587.05" width="3.97" height="10.10" fill="#ffff99"/>
<defs><pattern id="cellbg" x="32.10" y="0" width="3.968" height="20" patternUnits="userSpaceOnUse"><rect x="0" y="0" width="2.9" height="20" fill="#f3f3f3"/></pattern></defs>
<rect x="32.10" y="601.90" width="526.74" height="11.00" fill="#fbfbfb"/>
<rect x="32.10" y="601.90" width="526.74" height="11.00" fill="url(#cellbg)"/>
<rect x="32.10" y="601.90" width="2.90" height="11.00" fill="#ff0000"/>
<rect x="36.07" y="601.90" width="2.90" height="11.00" fill="#ff0000"/>
<rect x="40.04" y="601.90" width="2.90" height="11.00" fill="#ff0000"/>
<rect x="44.00" y="601.90" width="2.90" height="11.00" fill="#00ff00"/>
<rect x="47.97" y="601.90" width="2.90" height="11.00" fill="#ff0000"/>
<rect x="51.94" y="601.90" width="2.90" height="11.00" fill="#ff0000"/>
<rect x="55.91" y="601.90" width="2.90" height="11.00" fill="#ba55d3"/>
<rect x="59.88" y="601.90" width="2.90" height="11.00" fill="#8b0000"/>
<rect x="63.84" y="601.90" width="2.90" height="11.00" fill="#ff0000"/>
<rect x="67.81" y="601.90" width="2.90" height="11.00" fill="#4b0082"/>
<rect x="71.78" y="601.90" width="2.90" height="11.00" fill="#ba55d3"/>
<rect x="75.75" y="601.90" width="2.90" height="11.00" fill="#d9840f"/>
<rect x="79.72" y="601.90" width="2.90" height="11.00" fill="#8b0000"/>
<rect x="83.68" y="601.90" width="2.90" height="11.00" fill="#ff0000"/>
<rect x="87.65" y="601.90" width="2.90" height="11.00" fill="#ff0000"/>
<rect x="91.62" y="601.90" width="2.90" height="11.00" fill="#8b0000"/>
<rect x="95.59" y="601.90" width="2.90" height="11.00" fill="#ff0000"/>
<rect x="99.56" y="601.90" width="2.90" height="11.00" fill="#4b0082"/>
<rect x="103.52" y="601.90" width="2.90" height="11.00" fill="#00ff00"/>
<rect x="107.49" y="601.90" width="2.90" height="11.00" fill="#ba55d3"/>
<rect x="111.46" y="601.90" width="2.90" height="11.00" fill="#8b0000"/>
<rect x="115.43" y="601.90" width="2.90" height="11.00" fill="#ff0000"/>
<rect x="119.40" y="601.90" width="2.90" height="11.00" fill="#ff1493"/>
<rect x="123.36" y="601.90" width="2.90" height="11.00" fill="#d9840f"/>
<rect x="127.33" y="601.90" width="2.90" height="11.00" fill="#ff0000"/>
<rect x="131.30" y="601.90" width="2.90" height="11.00" fill="#ff0000"/>
<rect x="135.27" y="601.90" width="2.90" height="11.00" fill="#4b0082"/>
<rect x="139.24" y="601.90" width="2.90" height="11.00" fill="#00ff00"/>
<rect x="143.20" y="601.90" width="2.90" height="11.00" fill="#00ff00"/>
<rect x="147.17" y="601.90" width="2.90" height="11.00" fill="#8b0000"/>
<rect x="151.14" y="601.90" width="2.90" height="11.00" fill="#00ff00"/>
<rect x="155.11" y="601.90" width="2.90" height="11.00" fill="#ff1493"/>
<rect x="159.08" y="601.90" width="2.90" height="11.00" fill="#ff0000"/>
<rect x="163.04" y="601.90" width="2.90" height="11.00" fill="#ff0000"/>
<rect x="167.01" y="601.90" width="2.90" height="11.00" fill="#ff0000"/>
<rect x="170.98" y="601.90" width="2.90" height="11.00" fill="#4b0082"/>
<rect x="174.95" y="601.90" width="2.90" height="11.00" fill="#4b0082"/>
<rect x="178.92" y="601.90" width="2.90" height="11.00" fill="#ff0000"/>
<rect x="182.88" y="601.90" width="2.90" height="11.00" fill="#ff0000"/>
<rect x="186.85" y="601.90" width="2.90" height="11.00" fill="#00ff00"/>
<rect x="190.82" y="601.90" width="2.90" height="11.00" fill="#228b22"/>
<rect x="194.79" y="601.90" width="2.90" height="11.00" fill="#ff0000"/>
<rect x="198.76" y="601.90" width="2.90" height="11.00" fill="#ff0000"/>
<rect x="202.72" y="601.90" width="2.90" height="11.00" fill="#ba55d3"/>
<rect x="206.69" y="601.90" width="2.90" height="11.00" fill="#ff0000"/>
<rect x="210.66" y="601.90" width="2.90" height="11.00" fill="#ff0000"/>
<rect x="214.63" y="601.90" width="2.90" height="11.00" fill="#ff0000"/>
<rect x="218.60" y="601.90" width="2.90" height="11.00" fill="#00ff00"/>
<rect x="222.56" y="601.90" width="2.90" height="11.00" fill="#ff0000"/>
<rect x="226.53" y="601.90" width="2.90" height="11.00" fill="#ff0000"/>
<rect x="230.50" y="601.90" width="2.90" height="11.00" fill="#ff0000"/>
<rect x="234.47" y="601.90" width="2.90" height="11.00" fill="#4b0082"/>
<rect x="238.44" y="601.90" width="2.90" height="11.00" fill="#ff0000"/>
<rect x="242.40" y="601.90" width="2.90" height="11.00" fill="#4b0082"/>
<rect x="246.37" y="601.90" width="2.90" height="11.00" fill="#00ff00"/>
<rect x="250.34" y="601.90" width="2.90" height="11.00" fill="#ff1493"/>
<rect x="254.31" y="601.90" width="2.90" height="11.00" fill="#d9840f"/>
<rect x="258.28" y="601.90" width="2.90" height="11.00" fill="#4b0082"/>
<rect x="262.24" y="601.90" width="2.90" height="11.00" fill="#ff0000"/>
<rect x="266.21" y="601.90" width="2.90" height="11.00" fill="#ff0000"/>
<rect x="270.18" y="601.90" width="2.90" height="11.00" fill="#d9840f"/>
<rect x="274.15" y="601.90" width="2.90" height="11.00" fill="#ff0000"/>
<rect x="278.12" y="601.90" width="2.90" height="11.00" fill="#ba55d3"/>
<rect x="282.08" y="601.90" width="2.90" height="11.00" fill="#ff0000"/>
<rect x="286.05" y="601.90" width="2.90" height="11.00" fill="#ff0000"/>
<rect x="290.02" y="601.90" width="2.90" height="11.00" fill="#4b0082"/>
<rect x="293.99" y="601.90" width="2.90" height="11.00" fill="#00ff00"/>
<rect x="297.96" y="601.90" width="2.90" height="11.00" fill="#ff0000"/>
<rect x="301.92" y="601.90" width="2.90" height="11.00" fill="#d9840f"/>
<rect x="305.89" y="601.90" width="2.90" height="11.00" fill="#ffd700"/>
<rect x="309.86" y="601.90" width="2.90" height="11.00" fill="#ffd700"/>
<rect x="313.83" y="601.90" width="2.90" height="11.00" fill="#8b0000"/>
<rect x="317.80" y="601.90" width="2.90" height="11.00" fill="#4b0082"/>
<rect x="321.76" y="601.90" width="2.90" height="11.00" fill="#ff0000"/>
<rect x="32.10" y="615.05" width="526.74" height="11.00" fill="#fbfbfb"/>
<rect x="32.10" y="615.05" width="526.74" height="11.00" fill="url(#cellbg)"/>
<rect x="325.73" y="615.05" width="2.90" height="11.00" fill="#ff0000"/>
<rect x="329.70" y="615.05" width="2.90" height="11.00" fill="#6e6e6e"/>
<rect x="333.67" y="615.05" width="2.90" height="11.00" fill="#ba55d3"/>
<rect x="337.64" y="615.05" width="2.90" height="11.00" fill="#ff0000"/>
<rect x="341.60" y="615.05" width="2.90" height="11.00" fill="#ff1493"/>
<rect x="345.57" y="615.05" width="2.90" height="11.00" fill="#ff0000"/>
<rect x="349.54" y="615.05" width="2.90" height="11.00" fill="#ffff00"/>
<rect x="353.51" y="615.05" width="2.90" height="11.00" fill="#ff0000"/>
<rect x="357.48" y="615.05" width="2.90" height="11.00" fill="#4b0082"/>
<rect x="361.44" y="615.05" width="2.90" height="11.00" fill="#ff0000"/>
<rect x="365.41" y="615.05" width="2.90" height="11.00" fill="#ffff00"/>
<rect x="369.38" y="615.05" width="2.90" height="11.00" fill="#ff0000"/>
<rect x="373.35" y="615.05" width="2.90" height="11.00" fill="#ffff00"/>
<rect x="377.32" y="615.05" width="2.90" height="11.00" fill="#4b0082"/>
<rect x="381.28" y="615.05" width="2.90" height="11.00" fill="#ff1493"/>
<rect x="385.25" y="615.05" width="2.90" height="11.00" fill="#ff0000"/>
<rect x="389.22" y="615.05" width="2.90" height="11.00" fill="#4b0082"/>
<rect x="393.19" y="615.05" width="2.90" height="11.00" fill="#ff1493"/>
<rect x="397.16" y="615.05" width="2.90" height="11.00" fill="#8b0000"/>
<rect x="401.12" y="615.05" width="2.90" height="11.00" fill="#ff0000"/>
<rect x="405.09" y="615.05" width="2.90" height="11.00" fill="#8b0000"/>
<rect x="409.06" y="615.05" width="2.90" height="11.00" fill="#8b0000"/>
<rect x="413.03" y="615.05" width="2.90" height="11.00" fill="#ffd700"/>
<rect x="417.00" y="615.05" width="2.90" height="11.00" fill="#ffd700"/>
<rect x="420.96" y="615.05" width="2.90" height="11.00" fill="#ff0000"/>
<rect x="424.93" y="615.05" width="2.90" height="11.00" fill="#8b0000"/>
<rect x="32.10" y="628.20" width="526.74" height="11.00" fill="#fbfbfb"/>
<rect x="32.10" y="628.20" width="526.74" height="11.00" fill="url(#cellbg)"/>
<rect x="32.10" y="628.20" width="2.90" height="11.00" fill="#ff1493"/>
<rect x="428.90" y="628.20" width="2.90" height="11.00" fill="#ff1493"/>
<rect x="432.87" y="628.20" width="2.90" height="11.00" fill="#ff1493"/>
<rect x="436.84" y="628.20" width="2.90" height="11.00" fill="#ff0000"/>
<rect x="440.80" y="628.20" width="2.90" height="11.00" fill="#ff1493"/>
<rect x="444.77" y="628.20" width="2.90" height="11.00" fill="#ff1493"/>
<rect x="448.74" y="628.20" width="2.90" height="11.00" fill="#ff1493"/>
<rect x="452.71" y="628.20" width="2.90" height="11.00" fill="#ff1493"/>
<rect x="32.10" y="641.35" width="526.74" height="11.00" fill="#fbfbfb"/>
<rect x="32.10" y="641.35" width="526.74" height="11.00" fill="url(#cellbg)"/>
<rect x="325.73" y="641.35" width="2.90" height="11.00" fill="#228b22"/>
<rect x="456.68" y="641.35" width="2.90" height="11.00" fill="#20aaa5"/>
<rect x="460.64" y="641.35" width="2.90" height="11.00" fill="#d9840f"/>
<rect x="464.61" y="641.35" width="2.90" height="11.00" fill="#6e6e6e"/>
<rect x="468.58" y="641.35" width="2.90" height="11.00" fill="#8b0000"/>
<rect x="32.10" y="654.50" width="526.74" height="11.00" fill="#fbfbfb"/>
<rect x="32.10" y="654.50" width="526.74" height="11.00" fill="url(#cellbg)"/>
<rect x="36.07" y="654.50" width="2.90" height="11.00" fill="#ffd700"/>
<rect x="428.90" y="654.50" width="2.90" height="11.00" fill="#00ff00"/>
<rect x="472.55" y="654.50" width="2.90" height="11.00" fill="#ffd700"/>
<rect x="476.52" y="654.50" width="2.90" height="11.00" fill="#ffd700"/>
<rect x="480.48" y="654.50" width="2.90" height="11.00" fill="#ffd700"/>
<rect x="32.10" y="667.65" width="526.74" height="11.00" fill="#fbfbfb"/>
<rect x="32.10" y="667.65" width="526.74" height="11.00" fill="url(#cellbg)"/>
<rect x="484.45" y="667.65" width="2.90" height="11.00" fill="#00ff00"/>
<rect x="488.42" y="667.65" width="2.90" height="11.00" fill="#ba55d3"/>
<rect x="492.39" y="667.65" width="2.90" height="11.00" fill="#ba55d3"/>
<rect x="496.36" y="667.65" width="2.90" height="11.00" fill="#4b0082"/>
<rect x="500.32" y="667.65" width="2.90" height="11.00" fill="#ff0000"/>
<rect x="32.10" y="680.80" width="526.74" height="11.00" fill="#fbfbfb"/>
<rect x="32.10" y="680.80" width="526.74" height="11.00" fill="url(#cellbg)"/>
<rect x="36.07" y="680.80" width="2.90" height="11.00" fill="#ffd700"/>
<rect x="504.29" y="680.80" width="2.90" height="11.00" fill="#ff1493"/>
<rect x="508.26" y="680.80" width="2.90" height="11.00" fill="#4b0082"/>
<rect x="512.23" y="680.80" width="2.90" height="11.00" fill="#ffd700"/>
<rect x="32.10" y="693.95" width="526.74" height="11.00" fill="#fbfbfb"/>
<rect x="32.10" y="693.95" width="526.74" height="11.00" fill="url(#cellbg)"/>
<rect x="40.04" y="693.95" width="2.90" height="11.00" fill="#d9840f"/>
<rect x="329.70" y="693.95" width="2.90" height="11.00" fill="#ff0000"/>
<rect x="516.20" y="693.95" width="2.90" height="11.00" fill="#ba55d3"/>
<rect x="32.10" y="707.10" width="526.74" height="11.00" fill="#fbfbfb"/>
<rect x="32.10" y="707.10" width="526.74" height="11.00" fill="url(#cellbg)"/>
<rect x="44.00" y="707.10" width="2.90" height="11.00" fill="#00ff00"/>
<rect x="520.16" y="707.10" width="2.90" height="11.00" fill="#00ff00"/>
<rect x="524.13" y="707.10" width="2.90" height="11.00" fill="#228b22"/>
<rect x="32.10" y="720.25" width="526.74" height="11.00" fill="#fbfbfb"/>
<rect x="32.10" y="720.25" width="526.74" height="11.00" fill="url(#cellbg)"/>
<rect x="528.10" y="720.25" width="2.90" height="11.00" fill="#d9840f"/>
<rect x="532.07" y="720.25" width="2.90" height="11.00" fill="#d9840f"/>
<rect x="536.04" y="720.25" width="2.90" height="11.00" fill="#ffff00"/>
<rect x="32.10" y="733.40" width="526.74" height="11.00" fill="#fbfbfb"/>
<rect x="32.10" y="733.40" width="526.74" height="11.00" fill="url(#cellbg)"/>
<rect x="47.97" y="733.40" width="2.90" height="11.00" fill="#ba55d3"/>
<rect x="540.00" y="733.40" width="2.90" height="11.00" fill="#d9840f"/>
<rect x="543.97" y="733.40" width="2.90" height="11.00" fill="#8b0000"/>
<rect x="32.10" y="746.55" width="526.74" height="11.00" fill="#fbfbfb"/>
<rect x="32.10" y="746.55" width="526.74" height="11.00" fill="url(#cellbg)"/>
<rect x="547.94" y="746.55" width="2.90" height="11.00" fill="#4b0082"/>
<rect x="551.91" y="746.55" width="2.90" height="11.00" fill="#00ff00"/>
<rect x="32.10" y="759.70" width="526.74" height="11.00" fill="#fbfbfb"/>
<rect x="32.10" y="759.70" width="526.74" height="11.00" fill="url(#cellbg)"/>
<rect x="555.88" y="759.70" width="2.90" height="11.00" fill="#ff1493"/>
<rect x="32.10" y="772.85" width="526.74" height="11.00" fill="#fbfbfb"/>
<rect x="32.10" y="772.85" width="526.74" height="11.00" fill="url(#cellbg)"/>
<rect x="32.10" y="786.00" width="526.74" height="11.00" fill="#fbfbfb"/>
<rect x="32.10" y="786.00" width="526.74" height="11.00" fill="url(#cellbg)"/>
<text transform="translate(561.60,564.70) scale(1,0.92)" font-size="12.65" font-weight="bold">BRCAm</text>
<text transform="translate(561.60,575.40) scale(1,0.92)" font-size="12.65" font-weight="bold">Mutation Type</text>
<text transform="translate(561.60,586.40) scale(1,0.92)" font-size="12.65" font-weight="bold">Platinum sensitivity</text>
<text transform="translate(561.60,597.20) scale(1,0.92)" font-size="12.65" font-weight="bold">Recurrence</text>
<text transform="translate(561.60,612.60) scale(1,0.92)" font-size="12.65" font-weight="bold">BRCA1</text>
<text transform="translate(561.60,625.75) scale(1,0.92)" font-size="12.65" font-weight="bold">BRCA2 Alternations</text>
<text transform="translate(561.60,638.90) scale(1,0.92)" font-size="12.65" font-weight="bold">RAD51D</text>
<text transform="translate(561.60,652.05) scale(1,0.92)" font-size="12.65" font-weight="bold">ATM</text>
<text transform="translate(561.60,665.20) scale(1,0.92)" font-size="12.65" font-weight="bold">BARD1</text>
<text transform="translate(561.60,678.35) scale(1,0.92)" font-size="12.65" font-weight="bold">RAD51C</text>
<text transform="translate(561.60,691.50) scale(1,0.92)" font-size="12.65" font-weight="bold">BRIP1</text>
<text transform="translate(561.60,704.65) scale(1,0.92)" font-size="12.65" font-weight="bold">CHEK1</text>
<text transform="translate(561.60,717.80) scale(1,0.92)" font-size="12.65" font-weight="bold">CHEK2</text>
<text transform="translate(561.60,730.95) scale(1,0.92)" font-size="12.65" font-weight="bold">CDK12</text>
<text transform="translate(561.60,744.10) scale(1,0.92)" font-size="12.65" font-weight="bold">RAD51B</text>
<text transform="translate(561.60,757.25) scale(1,0.92)" font-size="12.65" font-weight="bold">PALB2</text>
<text transform="translate(561.60,770.40) scale(1,0.92)" font-size="12.65" font-weight="bold">FANCL</text>
<text transform="translate(561.60,783.55) scale(1,0.92)" font-size="12.65" font-weight="bold">PPP2R2A</text>
<text transform="translate(561.60,796.70) scale(1,0.92)" font-size="12.65" font-weight="bold">RAD54L</text>
<rect x="620.10" y="635.20" width="10.20" height="7.40" fill="#ff0000"/>
<text transform="translate(641.0,643.60) scale(1,0.83)" font-size="12.7" font-weight="bold">gDel</text>
<rect x="620.10" y="645.80" width="10.20" height="7.40" fill="#ff1493"/>
<text transform="translate(641.0,653.70) scale(1,0.83)" font-size="12.7" font-weight="bold">gIns</text>
<rect x="620.10" y="656.00" width="10.20" height="7.40" fill="#ba55d3"/>
<text transform="translate(641.0,664.00) scale(1,0.83)" font-size="12.7" font-weight="bold">gSpl</text>
<rect x="620.10" y="666.10" width="10.20" height="7.40" fill="#8b0000"/>
<text transform="translate(641.0,674.40) scale(1,0.83)" font-size="12.7" font-weight="bold">gMis</text>
<rect x="620.10" y="676.50" width="10.20" height="7.40" fill="#4b0082"/>
<text transform="translate(641.0,684.60) scale(1,0.83)" font-size="12.7" font-weight="bold">gNon</text>
<rect x="620.10" y="686.30" width="10.20" height="7.40" fill="#c3c3c3"/>
<text transform="translate(641.0,696.30) scale(1,0.83)" font-size="12.7" font-weight="bold">Other</text>
<rect x="620.10" y="698.50" width="10.20" height="7.40" fill="#d9840f"/>
<text transform="translate(641.0,705.80) scale(1,0.83)" font-size="12.7" font-weight="bold">sDel</text>
<rect x="620.10" y="708.80" width="10.20" height="7.40" fill="#ffff00"/>
<text transform="translate(641.0,717.10) scale(1,0.83)" font-size="12.7" font-weight="bold">sIns</text>
<rect x="620.10" y="719.00" width="10.20" height="7.40" fill="#228b22"/>
<text transform="translate(641.0,727.20) scale(1,0.83)" font-size="12.7" font-weight="bold">sSpl</text>
<rect x="620.10" y="729.20" width="10.20" height="7.40" fill="#ffd700"/>
<text transform="translate(641.0,737.80) scale(1,0.83)" font-size="12.7" font-weight="bold">sMis</text>
<rect x="620.10" y="739.30" width="10.20" height="7.40" fill="#00ff00"/>
<text transform="translate(641.0,748.00) scale(1,0.83)" font-size="12.7" font-weight="bold">sNon</text>
<rect x="620.10" y="749.50" width="10.20" height="7.40" fill="#20aaa5"/>
<text transform="translate(641.0,760.20) scale(1,0.83)" font-size="12.7" font-weight="bold">sIndel</text>
<text transform="translate(32.80,814.80) scale(1,0.92)" font-size="12.65" font-weight="bold">BRCAm</text>
<rect x="33.20" y="826.60" width="10.10" height="6.70" fill="#ffa500"/>
<text transform="translate(51.80,834.20) scale(1,0.92)" font-size="12.65" font-weight="bold">Yes</text>
<rect x="33.20" y="838.10" width="10.10" height="6.90" fill="#1a6e8f"/>
<text transform="translate(51.80,845.50) scale(1,0.92)" font-size="12.65" font-weight="bold">No</text>
<text transform="translate(149.80,814.80) scale(1,0.92)" font-size="12.65" font-weight="bold">Recurrence</text>
<rect x="152.50" y="826.60" width="10.10" height="6.70" fill="#ffff99"/>
<text transform="translate(172.30,834.20) scale(1,0.92)" font-size="12.65" font-weight="bold">Yes</text>
<rect x="152.50" y="838.10" width="10.10" height="6.90" fill="#99cc99"/>
<text transform="translate(172.30,845.50) scale(1,0.92)" font-size="12.65" font-weight="bold">No</text>
<rect x="206.90" y="826.60" width="10.10" height="6.70" fill="#0b55a0"/>
<text transform="translate(226.40,834.20) scale(1,0.92)" font-size="12.65" font-weight="bold">NA</text>
<text transform="translate(286.30,814.80) scale(1,0.92)" font-size="12.65" font-weight="bold">Mutation Type</text>
<rect x="289.10" y="826.60" width="10.10" height="6.70" fill="#990033"/>
<text transform="translate(308.80,834.20) scale(1,0.92)" font-size="12.65" font-weight="bold">germline</text>
<rect x="289.10" y="838.10" width="10.10" height="6.90" fill="#ccff66"/>
<text transform="translate(308.80,845.50) scale(1,0.92)" font-size="12.65" font-weight="bold">somatic</text>
<rect x="366.00" y="826.60" width="10.10" height="6.70" fill="#ff9900"/>
<text transform="translate(385.50,834.20) scale(1,0.92)" font-size="12.65" font-weight="bold">All</text>
<text transform="translate(437.40,814.80) scale(1,0.92)" font-size="12.65" font-weight="bold">Platinum Sensitivity</text>
<rect x="441.50" y="826.60" width="10.10" height="6.70" fill="#336633"/>
<text transform="translate(460.40,834.20) scale(1,0.92)" font-size="12.65" font-weight="bold">Yes</text>
<rect x="441.50" y="838.10" width="10.10" height="6.90" fill="#cccc99"/>
<text transform="translate(460.40,845.50) scale(1,0.92)" font-size="12.65" font-weight="bold">No</text>
<rect x="486.90" y="826.60" width="10.10" height="6.70" fill="#0b55a0"/>
<text transform="translate(505.90,834.20) scale(1,0.92)" font-size="12.65" font-weight="bold">NA</text>
</svg>
</body></html>
